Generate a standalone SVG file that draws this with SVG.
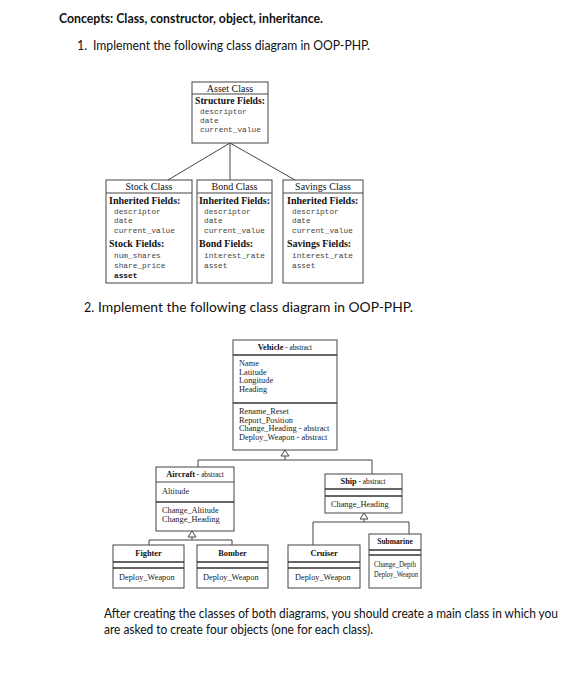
<svg xmlns="http://www.w3.org/2000/svg" width="585" height="700" viewBox="0 0 585 700">
<style>
.doc{font-family:Lato,"Liberation Sans",Arial,sans-serif;font-size:12.5px;fill:#111}
.box{fill:#fff;stroke:#444;stroke-width:1}
.sep{stroke:#444;stroke-width:1}
.thk{stroke:#333;stroke-width:1.5}
.t1{font-family:"Liberation Serif","Times New Roman",serif;font-size:10px;fill:#111}
.b1{font-family:"Liberation Serif","Times New Roman",serif;font-size:10px;font-weight:bold;fill:#111}
.mono{font-family:"Liberation Mono","Courier New",monospace;font-size:7.8px;fill:#444}
.t2{font-family:"Liberation Serif","Times New Roman",serif;font-size:8.3px;fill:#222}
.b2{font-family:"Liberation Serif","Times New Roman",serif;font-size:8.3px;font-weight:bold;fill:#111}
.s2{font-size:7.3px;font-weight:normal}
.c{text-anchor:middle}
.ln{fill:none;stroke:#444;stroke-width:1}
.tri{fill:#fff;stroke:#444;stroke-width:1}
</style>

<g id="texts">
<text class="doc" x="59" y="23" font-weight="bold" textLength="264" lengthAdjust="spacingAndGlyphs">Concepts: Class, constructor, object, inheritance.</text>
<text class="doc" x="77" y="50">1.</text>
<text class="doc" x="93" y="50" textLength="277" lengthAdjust="spacingAndGlyphs">Implement the following class diagram in OOP-PHP.</text>
<text class="doc" x="84" y="312">2.</text>
<text class="doc" x="98" y="312" textLength="315" lengthAdjust="spacingAndGlyphs">Implement the following class diagram in OOP-PHP.</text>
<text class="doc" x="104" y="618" textLength="454" lengthAdjust="spacingAndGlyphs">After creating the classes of both diagrams, you should create a main class in which you</text>
<text class="doc" x="104" y="634" textLength="269" lengthAdjust="spacingAndGlyphs">are asked to create four objects (one for each class).</text>
</g>

<g id="connectors">
<path class="ln" d="M230 143 L168 180 M230 143 L230 180 M230 143 L295 180"/>
<path class="ln" d="M285 456 L285 460 M198 460 L372 460 M198 460 L198 467 M372 460 L372 474"/>
<polygon class="tri" points="285,450 281,456 289,456"/>
<path class="ln" d="M192 537 L192 540 M149 540 L232 540 M149 540 L149 545 M232 540 L232 545"/>
<polygon class="tri" points="192,531 188,537 196,537"/>
<path class="ln" d="M364 519 L364 522 M313 522 L409 522 M313 522 L313 545 M409 522 L409 534"/>
<polygon class="tri" points="364,513 360,519 368,519"/>
</g>

<g id="asset">
<rect class="box" x="192" y="82" width="76" height="61"/>
<line class="sep" x1="192" y1="94" x2="268" y2="94"/>
<text class="t1 c" x="230" y="91.5">Asset Class</text>
<text class="b1" x="195" y="104" textLength="70" lengthAdjust="spacingAndGlyphs">Structure Fields:</text>
<text class="mono" x="200" y="114">descriptor</text>
<text class="mono" x="200" y="123">date</text>
<text class="mono" x="200" y="132">current_value</text>
</g>

<g id="stock">
<rect class="box" x="106" y="180" width="86" height="103"/>
<line class="sep" x1="106" y1="193" x2="192" y2="193"/>
<text class="t1 c" x="149" y="190">Stock Class</text>
<text class="b1" x="109" y="204">Inherited Fields:</text>
<text class="mono" x="114" y="214">descriptor</text>
<text class="mono" x="114" y="223">date</text>
<text class="mono" x="114" y="233">current_value</text>
<text class="b1" x="109" y="247">Stock Fields:</text>
<text class="mono" x="114" y="258">num_shares</text>
<text class="mono" x="114" y="268">share_price</text>
<text class="mono" x="114" y="278" style="fill:#111;font-weight:bold">asset</text>
</g>

<g id="bond">
<rect class="box" x="197" y="180" width="75" height="103"/>
<line class="sep" x1="197" y1="193" x2="272" y2="193"/>
<text class="t1 c" x="234.5" y="190">Bond Class</text>
<text class="b1" x="199" y="204" textLength="71" lengthAdjust="spacingAndGlyphs">Inherited Fields:</text>
<text class="mono" x="204" y="214">descriptor</text>
<text class="mono" x="204" y="223">date</text>
<text class="mono" x="204" y="233">current_value</text>
<text class="b1" x="199" y="247">Bond Fields:</text>
<text class="mono" x="204" y="258">interest_rate</text>
<text class="mono" x="204" y="268">asset</text>
</g>

<g id="savings">
<rect class="box" x="283" y="180" width="80" height="103"/>
<line class="sep" x1="283" y1="193" x2="363" y2="193"/>
<text class="t1 c" x="323" y="190">Savings Class</text>
<text class="b1" x="287" y="204">Inherited Fields:</text>
<text class="mono" x="292" y="214">descriptor</text>
<text class="mono" x="292" y="223">date</text>
<text class="mono" x="292" y="233">current_value</text>
<text class="b1" x="287" y="247">Savings Fields:</text>
<text class="mono" x="292" y="258">interest_rate</text>
<text class="mono" x="292" y="268">asset</text>
</g>

<g id="vehicle">
<rect class="box" x="233" y="340" width="104" height="110"/>
<line class="thk" x1="233" y1="355" x2="337" y2="355"/>
<text class="b2 c" x="285" y="350">Vehicle<tspan class="s2"> - abstract</tspan></text>
<text class="t2" x="239" y="366">Name</text>
<text class="t2" x="239" y="374.5">Latitude</text>
<text class="t2" x="239" y="383">Longitude</text>
<text class="t2" x="239" y="391.5">Heading</text>
<line class="thk" x1="233" y1="403" x2="337" y2="403"/>
<text class="t2" x="239" y="414">Rename_Reset</text>
<text class="t2" x="239" y="422.5">Report_Position</text>
<text class="t2" x="239" y="431">Change_Heading - abstract</text>
<text class="t2" x="239" y="440">Deploy_Weapon - abstract</text>
</g>

<g id="aircraft">
<rect class="box" x="156" y="467" width="78" height="64"/>
<line class="sep" x1="156" y1="482" x2="234" y2="482"/>
<text class="b2 c" x="195" y="477">Aircraft<tspan class="s2"> - abstract</tspan></text>
<text class="t2" x="162" y="494">Altitude</text>
<line class="thk" x1="156" y1="502" x2="234" y2="502"/>
<text class="t2" x="162" y="513">Change_Altitude</text>
<text class="t2" x="162" y="522">Change_Heading</text>
</g>

<g id="ship">
<rect class="box" x="325" y="474" width="77" height="39"/>
<line class="thk" x1="325" y1="489" x2="402" y2="489"/>
<line class="thk" x1="325" y1="496" x2="402" y2="496"/>
<text class="b2 c" x="363" y="484">Ship<tspan class="s2"> - abstract</tspan></text>
<text class="t2" x="331" y="507">Change_Heading</text>
</g>

<g id="fighter">
<rect class="box" x="113" y="545" width="71" height="43"/>
<line class="thk" x1="113" y1="562" x2="184" y2="562"/>
<line class="thk" x1="113" y1="568" x2="184" y2="568"/>
<text class="b2 c" x="148.5" y="556">Fighter</text>
<text class="t2" x="119" y="580">Deploy_Weapon</text>
</g>

<g id="bomber">
<rect class="box" x="197" y="545" width="71" height="43"/>
<line class="thk" x1="197" y1="562" x2="268" y2="562"/>
<line class="thk" x1="197" y1="568" x2="268" y2="568"/>
<text class="b2 c" x="232.5" y="556">Bomber</text>
<text class="t2" x="203" y="580">Deploy_Weapon</text>
</g>

<g id="cruiser">
<rect class="box" x="288" y="545" width="72" height="43"/>
<line class="thk" x1="288" y1="562" x2="360" y2="562"/>
<line class="thk" x1="288" y1="568" x2="360" y2="568"/>
<text class="b2 c" x="324" y="556">Cruiser</text>
<text class="t2" x="295" y="580">Deploy_Weapon</text>
</g>

<g id="submarine">
<rect class="box" x="369" y="534" width="52" height="54"/>
<line class="thk" x1="369" y1="550" x2="421" y2="550"/>
<line class="thk" x1="369" y1="555" x2="421" y2="555"/>
<text class="b2 c" x="395" y="544" style="font-size:7.5px">Submarine</text>
<text class="t2" x="374" y="567" style="font-size:7.5px" textLength="42" lengthAdjust="spacingAndGlyphs">Change_Depth</text>
<text class="t2" x="374" y="577" style="font-size:7.5px" textLength="44" lengthAdjust="spacingAndGlyphs">Deploy_Weapon</text>
</g>
</svg>
